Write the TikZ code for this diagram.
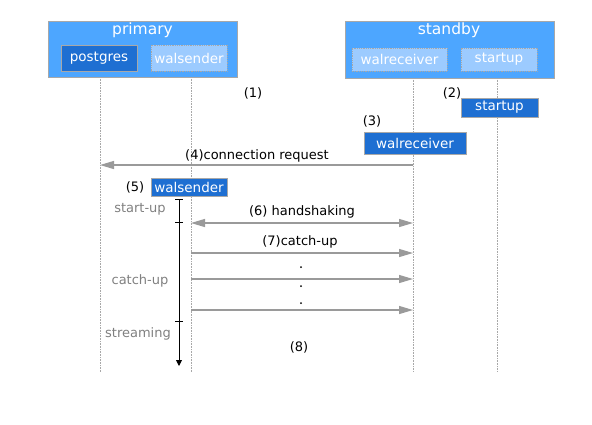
\documentclass[tikz,border=0pt]{standalone}
\usepackage{fontspec}
\setmainfont{DejaVu Sans}
\usetikzlibrary{arrows.meta}
\definecolor{boxblue}{HTML}{4DA6FF}
\definecolor{darkblue}{HTML}{1E6FD2}
\definecolor{lightblue}{HTML}{9CCBFF}
\definecolor{edgegray}{HTML}{A8A8A8}
\definecolor{linegray}{HTML}{9A9A9A}
\definecolor{labelgray}{HTML}{808080}
\tikzset{
  hostbox/.style={draw=edgegray, fill=boxblue, line width=0.8pt},
  procbox/.style={draw=edgegray, fill=darkblue, line width=0.8pt, text=white, inner sep=0pt, font=\fontsize{13.5}{15}\selectfont},
  ghostbox/.style={draw=edgegray, fill=lightblue, densely dotted, line width=0.8pt, text=white, inner sep=0pt, font=\fontsize{13.5}{15}\selectfont},
  lifeline/.style={draw=edgegray, densely dotted, line width=0.6pt},
  msg/.style={draw=linegray, line width=1.2pt, -{Triangle[length=14pt,width=8pt]}},
  msgboth/.style={draw=linegray, line width=1.2pt, {Triangle[length=14pt,width=8pt]}-{Triangle[length=14pt,width=8pt]}},
  lbl/.style={font=\fontsize{13}{15}\selectfont, inner sep=0pt},
  phase/.style={font=\fontsize{13}{15}\selectfont, text=labelgray, inner sep=0pt},
  hosttitle/.style={font=\fontsize{15.5}{17}\selectfont, text=white, inner sep=0pt},
}
\begin{document}
\begin{tikzpicture}[x=1pt,y=-1pt]
\useasboundingbox (0,0) rectangle (592,424);
% host boxes
\path[hostbox] (48,21) rectangle (237,77);
\node[hosttitle] (primary) at (142.5,30) {primary};
\path[hostbox] (345,21) rectangle (554,78);
\node[hosttitle] (standby) at (449,30) {standby};
\node[procbox, minimum width=76pt, minimum height=26pt] (postgres) at (99,58) {postgres};
\node[ghostbox, minimum width=76pt, minimum height=26pt] (wsghost) at (189,58) {walsender};
\node[ghostbox, minimum width=95pt, minimum height=23pt] (wrghost) at (399.5,59.5) {walreceiver};
\node[ghostbox, minimum width=76pt, minimum height=23pt] (sughost) at (499,59.5) {startup};
% lifelines
\coordinate (l1t) at (100,77); \coordinate (l1b) at (100,372);
\coordinate (l2t) at (191,77); \coordinate (l2b) at (191,372);
\coordinate (l3t) at (413,78); \coordinate (l3b) at (413,372);
\coordinate (l4t) at (497,78); \coordinate (l4b) at (497,372);
\draw[lifeline] (l1t) -- (l1b);
\draw[lifeline] (l2t) -- (l2b);
\draw[lifeline] (l3t) -- (l3b);
\draw[lifeline] (l4t) -- (l4b);
% steps
\node[lbl] (s1) at (253,93) {(1)};
\node[lbl] (s2) at (452,93) {(2)};
\node[procbox, minimum width=77pt, minimum height=19pt] (startup) at (499.5,107.5) {startup};
\node[lbl] (s3) at (372,121) {(3)};
\node[procbox, minimum width=102pt, minimum height=22pt] (walreceiver) at (415,143) {walreceiver};
% (4)
\coordinate (c4a) at (413,165); \coordinate (c4b) at (100,165);
\draw[msg] (c4a) -- (c4b);
\node[lbl] (s4) at (257,156) {(4)connection request};
% (5)
\node[lbl] (s5) at (135,187) {(5)};
\node[procbox, minimum width=76pt, minimum height=18pt] (walsender) at (189,187) {walsender};
% timeline
\coordinate (tl0) at (179,199); \coordinate (tl1) at (179,222);
\coordinate (tl2) at (179,321); \coordinate (tl3) at (179,366);
\draw[line width=0.9pt, -{Triangle[length=6pt,width=6pt]}] (tl0) -- (tl3);
\draw[line width=0.8pt] ([xshift=-4pt]tl0) -- ([xshift=4pt]tl0);
\draw[line width=0.8pt] ([xshift=-4pt]tl1) -- ([xshift=4pt]tl1);
\draw[line width=0.8pt] ([xshift=-4pt]tl2) -- ([xshift=4pt]tl2);
\node[phase] (ph1) at (140,209) {start-up};
\node[phase] (ph2) at (140,281) {catch-up};
\node[phase] (ph3) at (138,334) {streaming};
% (6)
\coordinate (c6a) at (191,223); \coordinate (c6b) at (413,223);
\draw[msgboth] (c6a) -- (c6b);
\node[lbl] (s6) at (302,212) {(6) handshaking};
% (7)
\coordinate (c7a) at (191,253); \coordinate (c7b) at (413,253);
\draw[msg] (c7a) -- (c7b);
\node[lbl] (s7) at (300,242) {(7)catch-up};
\coordinate (c8a) at (191,279); \coordinate (c8b) at (413,279);
\draw[msg] (c8a) -- (c8b);
\coordinate (c9a) at (191,310); \coordinate (c9b) at (413,310);
\draw[msg] (c9a) -- (c9b);
\fill (301,267) circle (1pt);
\fill (301,286) circle (1pt);
\fill (301,303) circle (1pt);
\node[lbl] (s8) at (299,347) {(8)};
\end{tikzpicture}
\end{document}
